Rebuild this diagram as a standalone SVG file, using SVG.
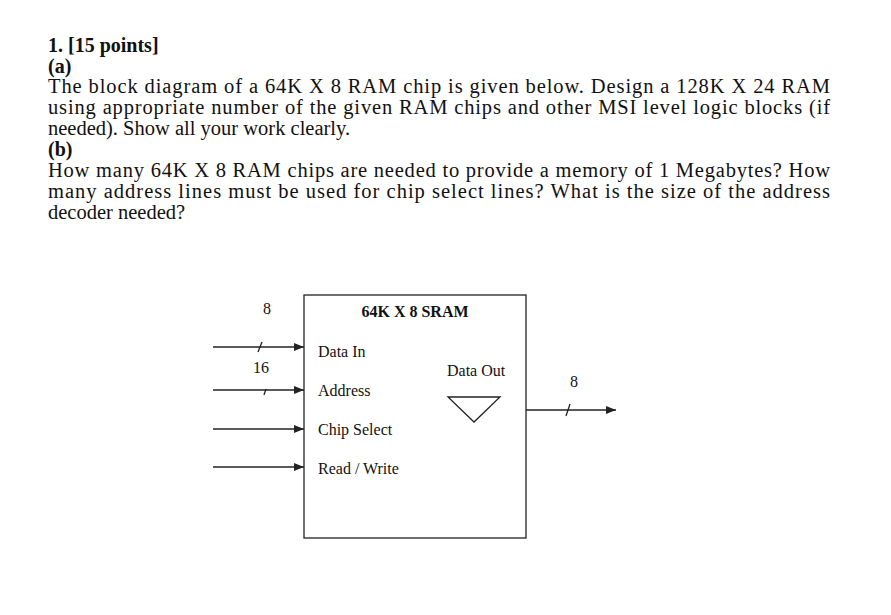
<svg xmlns="http://www.w3.org/2000/svg" width="891" height="615" viewBox="0 0 891 615">
<defs><marker id="ar" markerWidth="10" markerHeight="8" refX="10" refY="4" orient="auto" markerUnits="userSpaceOnUse"><path d="M0,0 L10,4 L0,8 z" fill="#222"/></marker></defs>
<style>
text{font-family:"Liberation Serif",serif;fill:#111}
.b{font-size:20.5px}
.h{font-size:20px;font-weight:bold}
.l{font-size:16px}
.c{stroke:#222;stroke-width:1.3;fill:none}
</style>
<rect width="891" height="615" fill="#fff"/>
<text class="h" x="48" y="52">1. [15 points]</text>
<text class="h" x="48" y="73">(a)</text>
<text class="b" x="48" y="93" textLength="782" lengthAdjust="spacing">The block diagram of a 64K X 8 RAM chip is given below. Design a 128K X 24  RAM</text>
<text class="b" x="48" y="114" textLength="782" lengthAdjust="spacing">using appropriate number of the given RAM chips and other MSI level logic blocks (if</text>
<text class="b" x="48" y="135">needed). Show all your work clearly.</text>
<text class="h" x="48" y="156">(b)</text>
<text class="b" x="48" y="177" textLength="782" lengthAdjust="spacing">How many 64K X 8 RAM chips are needed to provide a memory of 1 Megabytes? How</text>
<text class="b" x="48" y="198" textLength="782" lengthAdjust="spacing">many address lines must be used for chip select lines? What is the size of the address</text>
<text class="b" x="48" y="219">decoder needed?</text>
<g id="sram">
<rect x="304" y="295" width="222" height="243" class="c"/>
<text class="l" x="415" y="317" text-anchor="middle" font-weight="bold">64K X 8 SRAM</text>
<text class="l" x="318" y="357">Data In</text>
<text class="l" x="318" y="396">Address</text>
<text class="l" x="318" y="435">Chip Select</text>
<text class="l" x="318" y="474">Read / Write</text>
<text class="l" x="447" y="376">Data Out</text>
<path d="M448,397 L500,397 L474,422 Z" class="c"/>
</g>
<g id="connectors">
<line x1="213" y1="347" x2="304" y2="347" class="c" marker-end="url(#ar)"/>
<line x1="258" y1="352" x2="262" y2="342" class="c"/>
<text class="l" x="267" y="314" text-anchor="middle">8</text>
<line x1="213" y1="390" x2="304" y2="390" class="c" marker-end="url(#ar)"/>
<line x1="264" y1="395" x2="266" y2="389" class="c"/>
<text class="l" x="261" y="373" text-anchor="middle">16</text>
<line x1="526" y1="410" x2="616" y2="410" class="c" marker-end="url(#ar)"/>
<line x1="213" y1="429" x2="304" y2="429" class="c" marker-end="url(#ar)"/>
<line x1="213" y1="467" x2="304" y2="467" class="c" marker-end="url(#ar)"/>
<line x1="566" y1="416" x2="570" y2="404" class="c"/>
<text class="l" x="574" y="387" text-anchor="middle">8</text>
</g>
</svg>
